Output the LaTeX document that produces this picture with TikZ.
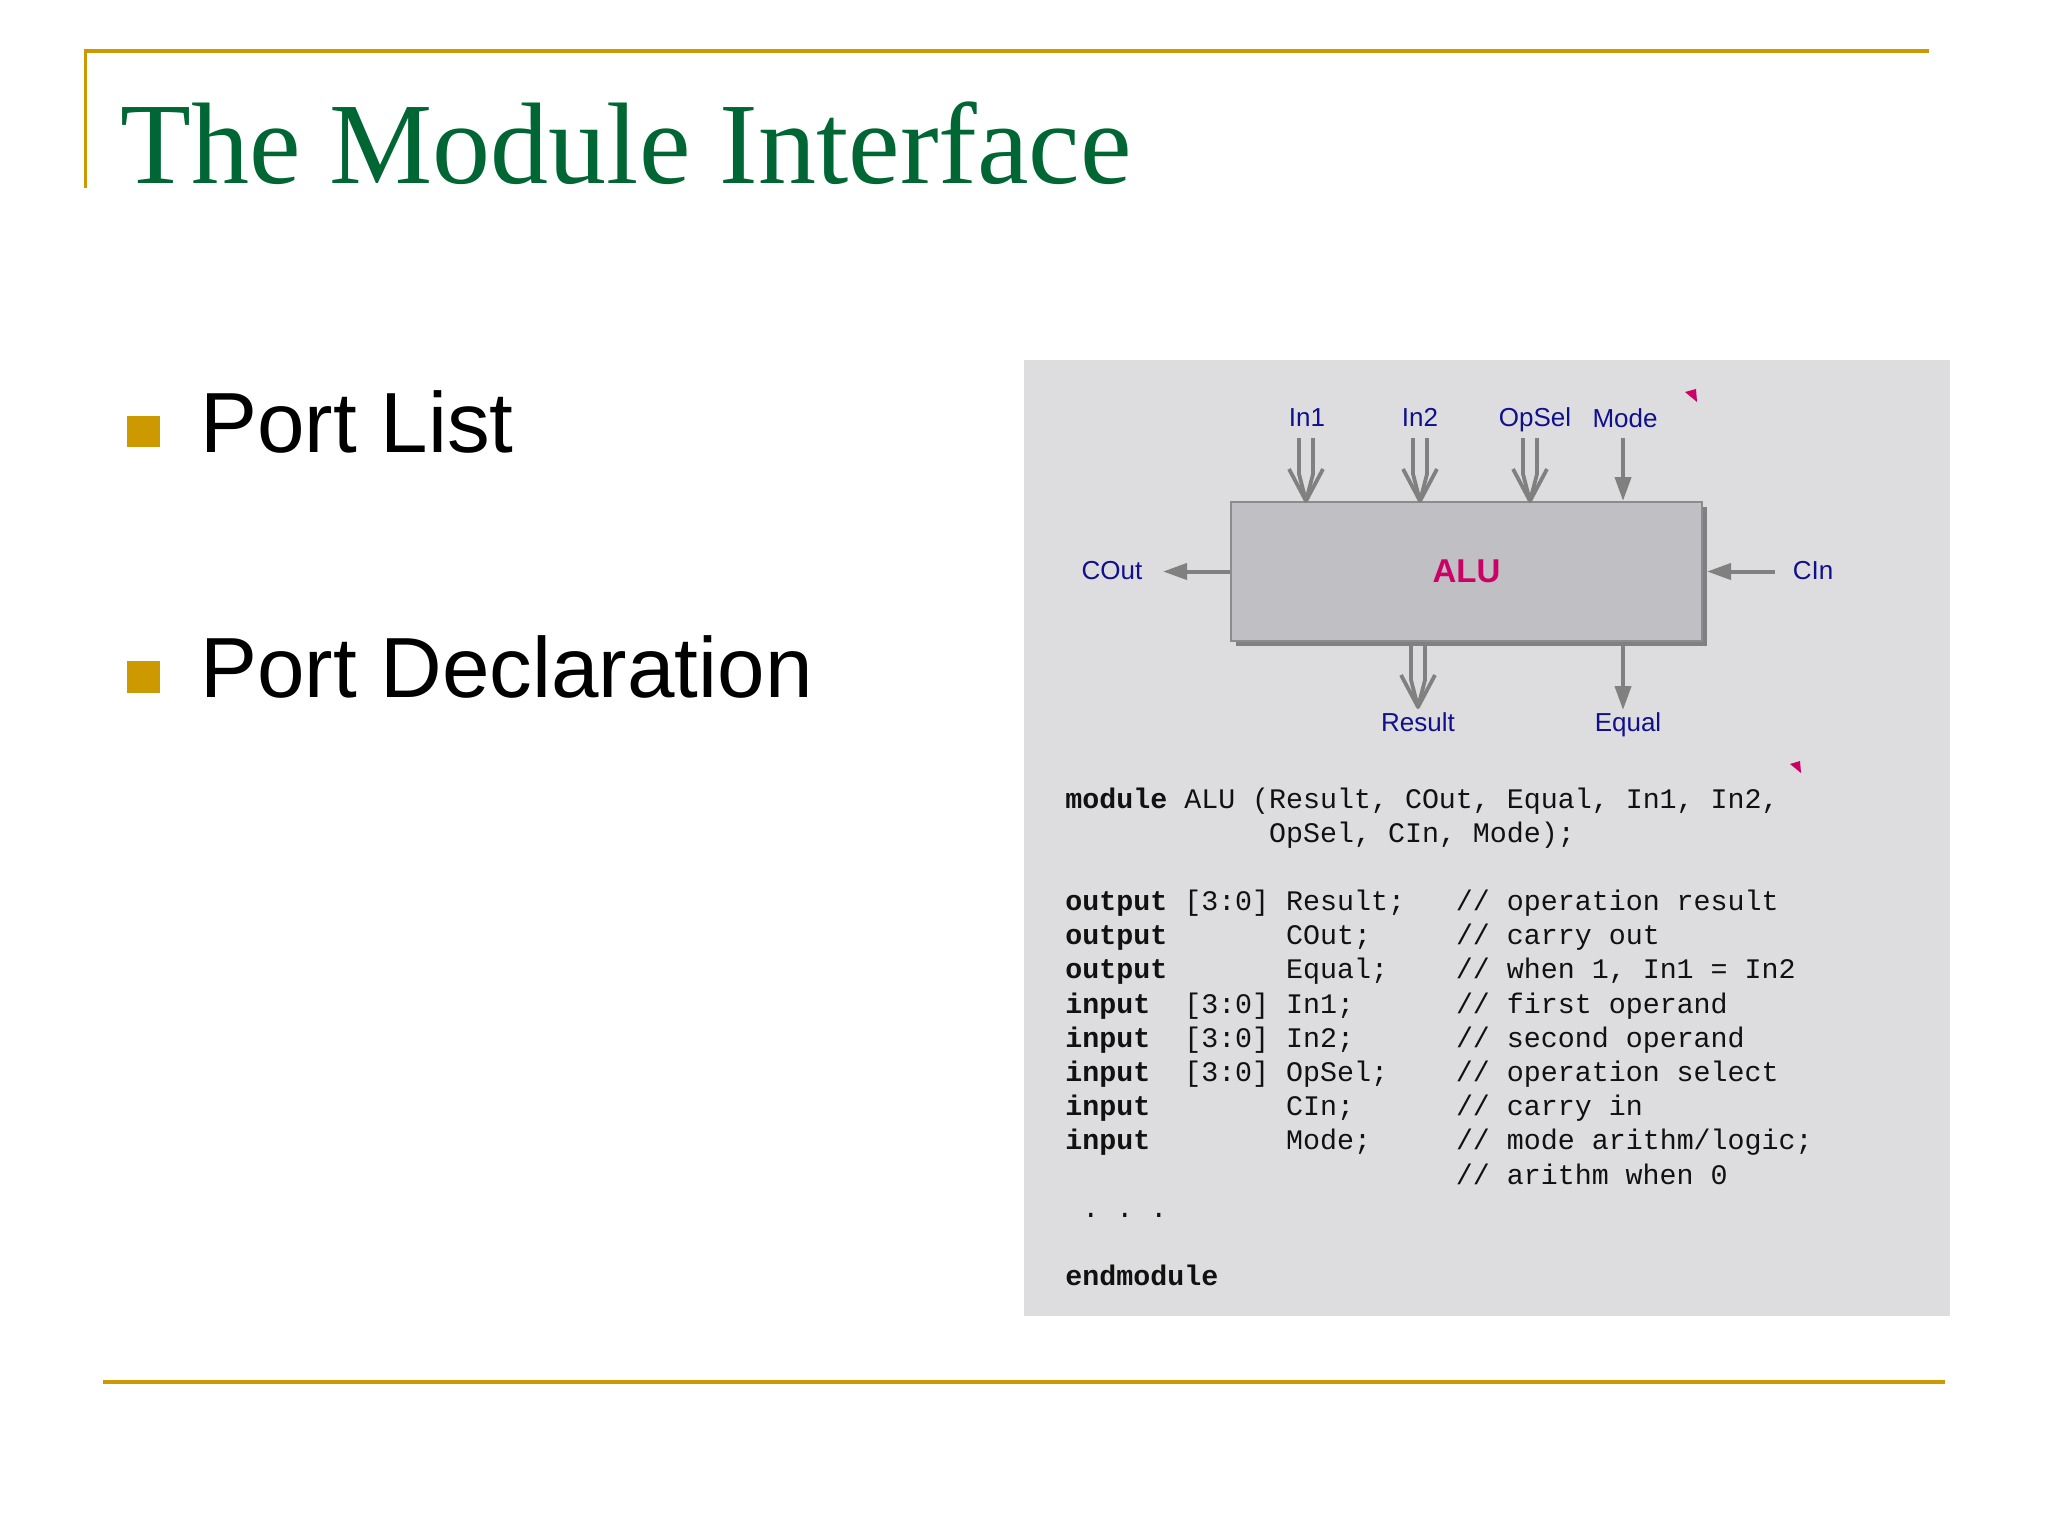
\documentclass[tikz,border=0pt]{standalone}
\usepackage{fontspec}
\setmainfont{Liberation Serif}
\setsansfont{Liberation Sans}
\setmonofont{Liberation Mono}
\usetikzlibrary{arrows.meta,calc}
\definecolor{gold}{RGB}{204,153,0}
\definecolor{titlegreen}{RGB}{0,102,51}
\definecolor{panelgray}{RGB}{221,221,224}
\definecolor{boxfill}{RGB}{192,191,195}
\definecolor{boxedge}{RGB}{140,140,142}
\definecolor{shadowgray}{RGB}{128,128,130}
\definecolor{wire}{RGB}{128,128,128}
\definecolor{navylbl}{RGB}{16,16,140}
\definecolor{alumag}{RGB}{204,0,102}
\definecolor{codeink}{RGB}{17,17,17}
\newlength\cwid
\setlength\cwid{8.4913pt}
\newcommand\pad[2]{\makebox[#1\cwid][l]{#2}}
\newcommand\codefont{\fontsize{14.15pt}{16pt}\selectfont\ttfamily}
\newcommand\busdown[2]{%
  \draw[bus] ($(#1)+(-7,0)$) -- ($(#2)+(-7,-27)$) -- (#2) -- ($(#2)+(7,-27)$) -- ($(#1)+(7,0)$);
  \draw[bus] ($(#2)+(-17,-32)$) -- (#2) -- ($(#2)+(17,-32)$);}
\tikzset{
  lbl/.style={font=\sffamily\fontsize{13pt}{15pt}\selectfont, text=navylbl, inner sep=0pt, anchor=base},
  sig/.style={draw=wire, line width=2pt, -{Triangle[length=12pt,width=8pt]}},
  bus/.style={draw=wire, line width=1.9pt, line join=round, line cap=butt},
  codeln/.style={anchor=base west, inner sep=0pt, font=\codefont, text=codeink},
  bullettext/.style={anchor=base west, inner sep=0pt, font=\sffamily\fontsize{42.7pt}{48pt}\selectfont, text=black},
  alubox/.style={draw=boxedge, line width=1pt, fill=boxfill, minimum width=235.5pt, minimum height=69.5pt, inner sep=0pt,
    font=\sffamily\bfseries\fontsize{16.5pt}{19pt}\selectfont, text=alumag}
}
\begin{document}
\begin{tikzpicture}[x=0.5pt,y=-0.5pt]
\useasboundingbox (0,0) rectangle (2048,1536);
\fill[white] (0,0) rectangle (2048,1536);
% frame lines
\draw[gold, line width=2pt] (84,51) -- (1929,51);
\draw[gold, line width=1.5pt] (85.5,49) -- (85.5,188);
\draw[gold, line width=2.3pt] (103,1382) -- (1945,1382);
% title
\node[anchor=base west, inner sep=0pt, font=\fontsize{58pt}{62pt}\selectfont, text=titlegreen] (title) at (120,183) {The Module Interface};
% bullets
\fill[gold] (127,416) rectangle (160,447);
\node[bullettext] (b1) at (200,452) {Port List};
\fill[gold] (127,661) rectangle (160,693);
\node[bullettext] (b2) at (200,697) {Port Declaration};
% panel
\fill[panelgray] (1024,360) rectangle (1950,1316);
% ALU block
\fill[shadowgray] (1236,507) rectangle (1707,646);
\node[alubox] (alu) at (1466.5,571.5) {ALU};
% labels
\node[lbl] (in1) at (1307,426) {In1};
\node[lbl] (in2) at (1420,426) {In2};
\node[lbl] (opsel) at (1535,426) {OpSel};
\node[lbl] (mode) at (1625,427) {Mode};
\node[lbl] (cout) at (1112,579) {COut};
\node[lbl] (cin) at (1813,579) {CIn};
\node[lbl] (result) at (1418,731) {Result};
\node[lbl] (equal) at (1628,731) {Equal};
% arrow end points
\coordinate (in1s) at (1306,438);  \coordinate (in1e) at (in1s |- alu.north);
\coordinate (in2s) at (1420,438);  \coordinate (in2e) at (in2s |- alu.north);
\coordinate (opss) at (1530,438);  \coordinate (opse) at (opss |- alu.north);
\coordinate (mods) at (1623,438);  \coordinate (modee) at (mods |- alu.north);
\coordinate (ress) at (1418,646);  \coordinate (rese) at (1418,707);
\coordinate (eqs) at (1623,646);   \coordinate (eqe) at (1623,710);
\coordinate (coute) at (1163,571.5);
\coordinate (cins) at (1775,571.5); \coordinate (cine) at (1707,571.5);
% arrows
\busdown{in1s}{in1e}
\busdown{in2s}{in2e}
\busdown{opss}{opse}
\busdown{ress}{rese}
\draw[sig] (mods) -- (modee);
\draw[sig] (eqs) -- (eqe);
\draw[sig] (alu.west) -- (coute);
\draw[sig] (cins) -- (cine);
% small marks
\fill[alumag] (1685,392) -- (1696,389) -- (1697,402) -- cycle;
\fill[alumag] (1790,764) -- (1800,761) -- (1801,773) -- cycle;
% code
\node[codeln] (c0) at (1065,808) {\pad{7}{\textbf{module}}ALU (Result, COut, Equal, In1, In2,};
\node[codeln] (c1) at (1268.8,842) {OpSel, CIn, Mode);};
\node[codeln] (c3) at (1065,910) {\pad{7}{\textbf{output}}\pad{6}{[3:0]}\pad{10}{Result;}// operation result};
\node[codeln] (c4) at (1065,944.5) {\pad{13}{\textbf{output}}\pad{10}{COut;}// carry out};
\node[codeln] (c5) at (1065,978.5) {\pad{13}{\textbf{output}}\pad{10}{Equal;}// when 1, In1 = In2};
\node[codeln] (c6) at (1065,1013) {\pad{7}{\textbf{input}}\pad{6}{[3:0]}\pad{10}{In1;}// first operand};
\node[codeln] (c7) at (1065,1047) {\pad{7}{\textbf{input}}\pad{6}{[3:0]}\pad{10}{In2;}// second operand};
\node[codeln] (c8) at (1065,1081.5) {\pad{7}{\textbf{input}}\pad{6}{[3:0]}\pad{10}{OpSel;}// operation select};
\node[codeln] (c9) at (1065,1115.5) {\pad{13}{\textbf{input}}\pad{10}{CIn;}// carry in};
\node[codeln] (c10) at (1065,1149.5) {\pad{13}{\textbf{input}}\pad{10}{Mode;}// mode arithm/logic;};
\node[codeln] (c11) at (1455.5,1184) {// arithm when 0};
\node[codeln] (c12) at (1082,1217) {. . .};
\node[codeln] (c14) at (1065,1285) {\textbf{endmodule}};
\end{tikzpicture}
\end{document}
